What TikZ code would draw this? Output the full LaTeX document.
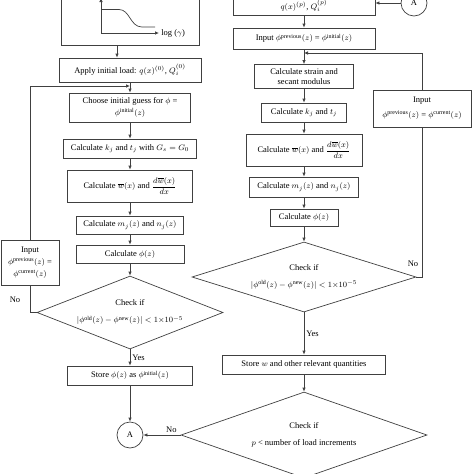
\documentclass[tikz,border=0pt]{standalone}
\usepackage{amsmath, amssymb}
\usepackage{fontspec}
\setmainfont{Liberation Serif}
\usetikzlibrary{arrows.meta, positioning, shapes.geometric, calc}

\begin{document}
\begin{tikzpicture}[x=1pt, y=-1pt,
    font=\fontsize{8.5}{10}\selectfont,
    ln/.style={draw=black!75, line width=0.7pt},
    arr/.style={ln, -{Latex[length=4pt,width=3.5pt]}},
    proc/.style={ln, rectangle, align=center, inner sep=1pt},
    test/.style={ln, diamond, aspect=3, align=center, inner sep=0pt},
    conn/.style={ln, circle, minimum size=26pt, inner sep=0pt}]
  \useasboundingbox (0,0) rectangle (474,474);
  \clip (0,0) rectangle (474,474);

  % left column: initial load step
  \node[proc, minimum width=138pt, minimum height=75pt] (curve) at (130,7.5) {};
  \draw[arr] (101,33) -- (101,-2);
  \draw[arr] (101,33) -- (159,33) node[right, inner sep=2pt] (logg) {log ($\gamma$)};
  \draw[ln] (101,9.5) -- (119,9.5) .. controls (130,9.5) and (130,27) .. (142,27) -- (155,27);
  \node[proc, minimum width=142pt, minimum height=24pt] (apply) at (130,70)
    {Apply initial load: $q(x)^{(0)}$, $Q_i^{(0)}$};
  \node[proc, minimum width=121pt, minimum height=29pt] (choose) at (130,107.5)
    {Choose initial guess for $\phi$ =\\[2pt] $\phi^{\text{initial}}(z)$};
  \node[proc, minimum width=133pt, minimum height=19pt] (calck) at (130,148.5)
    {Calculate $k_j$ and $t_j$ with $G_s = G_0$};
  \node[proc, minimum width=125pt, minimum height=32pt] (calcw) at (130,186)
    {Calculate $\overline{w}(x)$ and $\dfrac{d\overline{w}(x)}{dx}$};
  \node[proc, minimum width=107pt, minimum height=18pt] (calcm) at (130,225)
    {Calculate $m_j(z)$ and $n_j(z)$};
  \node[proc, minimum width=108pt, minimum height=18pt] (calcphi) at (130,254)
    {Calculate $\phi(z)$};
  \node[test, minimum width=186pt, minimum height=73pt] (check) at (130,312.5)
    {Check if\\[7pt] $|\phi^{\text{old}}(z) - \phi^{\text{new}}(z)| < 1{\times}10^{-5}$};
  \node[proc, minimum width=125pt, minimum height=19pt] (store) at (130,375.5)
    {Store $\phi(z)$ as $\phi^{\text{initial}}(z)$};
  \node[conn] (outA) at (130,435) {A};
  \node[proc, minimum width=58pt, minimum height=45pt] (input) at (30,262.5)
    {Input\\[2pt] $\phi^{\text{previous}}(z)$ =\\[2pt] $\phi^{\text{current}}(z)$};
  \coordinate (loopin) at (130,86);

  % right column: load increments
  \node[proc, minimum width=142pt, minimum height=50pt] (loadp) at (304,-10) {};
  \node (loadtxt) at (304,6) {$q(x)^{(p)}$, $Q_i^{(p)}$};
  \node[conn] (inA) at (414,3) {A};
  \node[proc, minimum width=142pt, minimum height=21pt] (inprev) at (304,38.5)
    {Input $\phi^{\text{previous}}(z)$ = $\phi^{\text{initial}}(z)$};
  \node[proc, minimum width=99pt, minimum height=24pt] (strain) at (304,76.5)
    {Calculate strain and\\ secant modulus};
  \node[proc, minimum width=85pt, minimum height=19pt] (calckp) at (304,112.5)
    {Calculate $k_j$ and $t_j$};
  \node[proc, minimum width=116pt, minimum height=32pt] (calcwp) at (304,150)
    {Calculate $\overline{w}(x)$ and $\dfrac{d\overline{w}(x)}{dx}$};
  \node[proc, minimum width=109pt, minimum height=20pt] (calcmp) at (304,187)
    {Calculate $m_j(z)$ and $n_j(z)$};
  \node[proc, minimum width=68pt, minimum height=17pt] (calcphip) at (304,217.5)
    {Calculate $\phi(z)$};
  \node[test, minimum width=224pt, minimum height=70pt] (checkp) at (304,277)
    {Check if\\[7pt] $|\phi^{\text{old}}(z) - \phi^{\text{new}}(z)| < 1{\times}10^{-5}$};
  \node[proc, minimum width=98pt, minimum height=37pt] (inputp) at (422,108.5)
    {Input\\[5pt] $\phi^{\text{previous}}(z)$ = $\phi^{\text{current}}(z)$};
  \node[proc, minimum width=163pt, minimum height=19pt] (storep) at (304,364.5)
    {Store $w$ and other relevant quantities};
  \node[test, minimum width=246pt, minimum height=86pt] (checkn) at (304,435)
    {Check if\\[7pt] $p$ < number of load increments};
  \coordinate (loopinp) at (304,53);

  % connectors, left
  \draw[arr] ([xshift=-13pt]curve.south) -- ([xshift=-13pt]curve.south |- apply.north);
  \draw[arr] (apply) -- (choose);
  \draw[arr] (choose) -- (calck);
  \draw[arr] (calck) -- (calcw);
  \draw[arr] (calcw) -- (calcm);
  \draw[arr] (calcm) -- (calcphi);
  \draw[arr] (calcphi) -- (check);
  \draw[arr] (check) -- (store) node[midway, right, inner sep=2pt] {Yes};
  \draw[arr] (store) -- (outA);
  \draw[ln] (check.west) -- (check.west -| input) -- (input.south);
  \node (noL) at (15,300) {No};
  \draw[arr] (input.north) |- (loopin);

  % connectors, right
  \draw[arr] (inA.west) -- (inA.west -| loadp.east);
  \draw[arr] (loadp) -- (inprev);
  \draw[arr] (inprev) -- (strain);
  \draw[arr] (strain) -- (calckp);
  \draw[arr] (calckp) -- (calcwp);
  \draw[arr] (calcwp) -- (calcmp);
  \draw[arr] (calcmp) -- (calcphip);
  \draw[arr] (calcphip) -- (checkp);
  \draw[arr] (checkp) -- (storep) node[midway, right, inner sep=2pt] {Yes};
  \draw[arr] (storep) -- (checkn);
  \draw[ln] (checkp.east) -- (checkp.east -| inputp) -- (inputp.south);
  \node (noR) at (413,264) {No};
  \draw[arr] (inputp.north) |- (loopinp);
  \draw[arr] (checkn.west) -- (outA.east) node[pos=0.25, above, inner sep=2pt] {No};
\end{tikzpicture}
\end{document}
